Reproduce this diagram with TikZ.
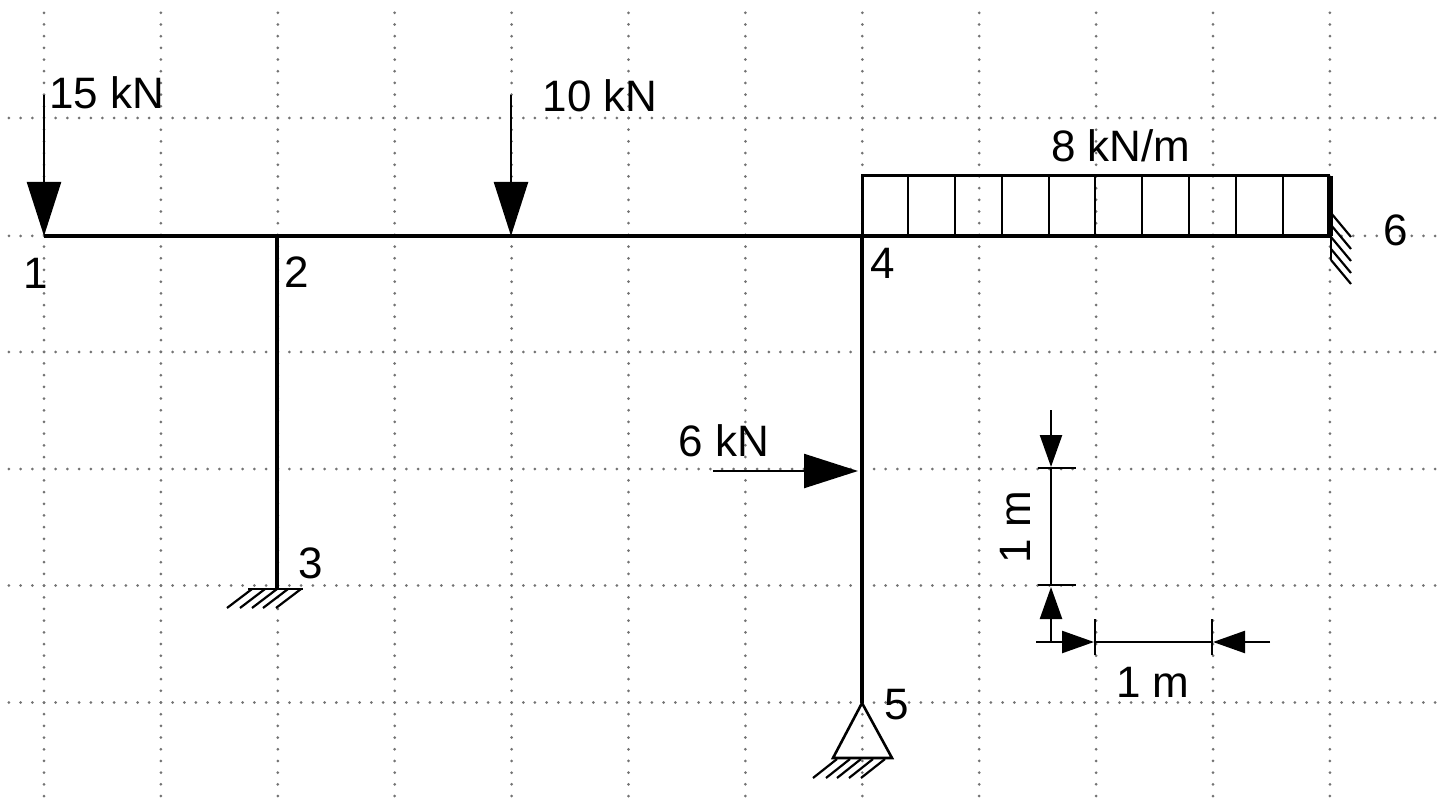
\documentclass[tikz,border=0pt]{standalone}
\usepackage{fontspec}
\setmainfont{Liberation Sans}
\usetikzlibrary{arrows.meta}
\tikzset{
  griddot/.style={fill=black!55,draw=none},
  beam/.style={line width=2.1pt,black},
  column/.style={line width=1.7pt,black},
  thin member/.style={line width=1.2pt,black},
  hatch/.style={line width=1.1pt,black},
  load/.style={line width=1.2pt,black,-{Triangle[length=27pt,width=17pt]},shorten >=0pt},
  dim/.style={line width=1.2pt,black,-{Triangle[length=16pt,width=11pt]}},
  lbl/.style={inner sep=0pt,font=\fontsize{22}{22}\selectfont,text=black},
}
\begin{document}
\begin{tikzpicture}[x=0.5pt,y=-0.5pt]
\useasboundingbox (0,0) rectangle (1444,812);
% dotted grid
\foreach \gx in {44,160.9,277.8,394.7,511.6,628.5,745.4,862.3,979.2,1096.1,1213,1329.9}
  \foreach \k in {-9,...,58}
    \fill[griddot] (\gx,118+\k*11.69) circle (1.5);
\foreach \gy in {118,235.9,352,469,585.5,702.5}
  \foreach \k in {-3,...,119}
    \fill[griddot] (44+\k*11.69,\gy) circle (1.5);
% named points
\coordinate (n1) at (44,236);
\coordinate (n2) at (277,236);
\coordinate (n3) at (277,588);
\coordinate (n4) at (862,236);
\coordinate (n5) at (862,703);
\coordinate (n6) at (1330,236);
\coordinate (f1) at (44,95);
\coordinate (f2) at (511,95);
\coordinate (f2t) at (511,236);
\coordinate (f3) at (713,471);
\coordinate (f3t) at (858,471);
% members
\draw[beam] (n1) -- (n6);
\draw[column] (n2) -- (n3);
\draw[column] (n4) -- (n5);
% forces
\draw[load] (f1) -- (n1);
\draw[load] (f2) -- (f2t);
\draw[load] (f3) -- (f3t);
% distributed load
\coordinate (q1) at (862,176);
\coordinate (q2) at (1330,176);
\draw[line width=1.5pt] (n4) -- (q1) -- (q2);
\draw[line width=2.6pt] (q2) -- (n6);
\foreach \qx in {908,955,1002,1049,1095,1142,1189,1236,1283}
  \draw[line width=1.2pt] (\qx,176) -- (\qx,236);
% support 3
\draw[line width=1.4pt] (248,589) -- (303,589);
\foreach \hx in {227,240,252,263,276}
  \draw[hatch] (\hx,608) -- ++(25,-19);
% support 5
\draw[line width=1.3pt] (n5) -- (833,758) -- (892,758) -- cycle;
\foreach \hx in {813,826,837,849,861}
  \draw[hatch] (\hx,778) -- ++(24,-19);
% support 6
\draw[line width=1.1pt] (1331,213) -- (1331,260);
\foreach \hy in {213,225,237,249,260}
  \draw[hatch] (1331,\hy) -- ++(20,24);
% dimensions
\coordinate (d1) at (1051,410);
\coordinate (d1t) at (1051,467);
\coordinate (d2) at (1051,642);
\coordinate (d2t) at (1051,587);
\coordinate (d3) at (1036,642);
\coordinate (d3t) at (1094,642);
\coordinate (d4) at (1270,642);
\coordinate (d4t) at (1213,642);
\draw[dim] (d1) -- (d1t);
\draw[dim] (d2) -- (d2t);
\draw[dim] (d3) -- (d3t);
\draw[dim] (d4) -- (d4t);
\draw[thin member] (1051,468) -- (1051,585);
\draw[thin member] (1095,642) -- (1212,642);
\draw[line width=1.1pt] (1038,468) -- (1076,468);
\draw[line width=1.1pt] (1038,585) -- (1076,585);
\draw[line width=1.1pt] (1095,619) -- (1095,655);
\draw[line width=1.1pt] (1212,619) -- (1212,655);
% labels
\node[lbl] (l1) at (36,273) {1};
\node[lbl] (l2) at (297,272) {2};
\node[lbl] (l3) at (311,563) {3};
\node[lbl] (l4) at (883,263) {4};
\node[lbl] (l5) at (897,705) {5};
\node[lbl] (l6) at (1396,230) {6};
\node[lbl] (t1) at (107,93) {15 kN};
\node[lbl] (t2) at (600,96) {10 kN};
\node[lbl] (t3) at (1121,146) {8 kN/m};
\node[lbl] (t4) at (724,441) {6 kN};
\node[lbl,rotate=90] (t5) at (1015,527) {1 m};
\node[lbl] (t6) at (1153,682) {1 m};
\end{tikzpicture}
\end{document}
